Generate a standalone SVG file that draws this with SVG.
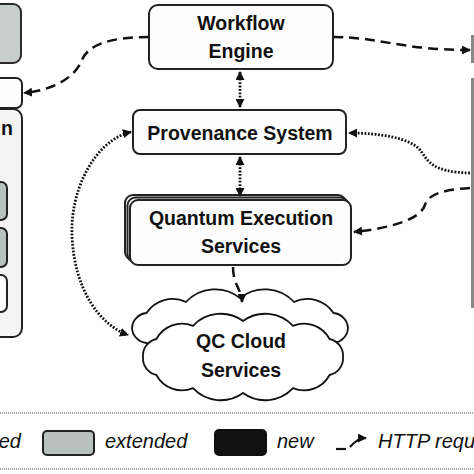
<svg xmlns="http://www.w3.org/2000/svg" width="474" height="474" viewBox="0 0 474 474">
<defs>
<marker id="ah" viewBox="0 0 10 10" refX="9" refY="5" markerWidth="9" markerHeight="9" markerUnits="userSpaceOnUse" orient="auto-start-reverse">
<path d="M0,0 L10,5 L0,10 z" fill="#111"/>
</marker>
</defs>
<style>
.box{fill:#fdfdfd;stroke:#222;stroke-width:2}
.lbl{font-family:"Liberation Sans",Arial,sans-serif;font-weight:bold;font-size:19.5px;fill:#111;text-anchor:middle}
.leg{font-family:"Liberation Sans",Arial,sans-serif;font-style:italic;font-size:20px;fill:#111}
.dash{fill:none;stroke:#111;stroke-width:2.5;stroke-dasharray:10 6}
.dot{fill:none;stroke:#111;stroke-width:2.8;stroke-dasharray:1.8 1.6}
.ext{fill:#b9c1be;stroke:#222;stroke-width:2}
.cloud{fill:#fff;stroke:#111;stroke-width:1.8}
</style>
<rect width="474" height="474" fill="#fff"/>

<g id="left-panel">
<rect x="-12" y="4" width="33" height="59" rx="8" fill="#c8cecb" stroke="#2a2a2a" stroke-width="2"/>
<rect x="-12" y="78" width="34" height="30" rx="6" class="box"/>
<rect x="-12" y="109" width="34" height="228" rx="9" fill="#f4f4f4" stroke="#222" stroke-width="2"/>
<text x="13" y="135" class="lbl" style="text-anchor:end">n</text>
<rect x="-12" y="182" width="19" height="38" rx="6" class="ext"/>
<rect x="-12" y="228" width="19" height="39" rx="6" class="ext"/>
<rect x="-12" y="275" width="19" height="37" rx="6" class="box"/>
</g>

<g id="right-panel">
<line x1="472.5" y1="35" x2="472.5" y2="63" stroke="#888" stroke-width="3"/>
<line x1="472.5" y1="78" x2="472.5" y2="308" stroke="#888" stroke-width="3"/>
</g>

<g id="workflow-engine">
<rect x="149" y="5" width="184" height="64" rx="9" class="box"/>
<text x="241" y="30" class="lbl">Workflow</text>
<text x="241" y="58" class="lbl">Engine</text>
</g>

<g id="provenance-system">
<rect x="133" y="110" width="213" height="44" rx="7" class="box"/>
<text x="240" y="140" class="lbl">Provenance System</text>
</g>

<g id="quantum-execution-services">
<rect x="125" y="195" width="221" height="65" rx="8" class="box"/>
<rect x="127.5" y="197.5" width="221" height="65" rx="8" class="box"/>
<rect x="130" y="200" width="221" height="65" rx="8" class="box"/>
<text x="241" y="225" class="lbl">Quantum Execution</text>
<text x="241" y="253" class="lbl">Services</text>
</g>

<g id="qc-cloud-services">
<path class="cloud" d="M348,328 A16,16 0 0 1 333.5,343 A31,31 0 0 1 294,354 A40,40 0 0 1 240,358 A40,40 0 0 1 186,354 A31,31 0 0 1 146.5,343 A16,16 0 0 1 132,328 A16,16 0 0 1 146.5,313 A31,31 0 0 1 186,302 A40,40 0 0 1 240,298 A40,40 0 0 1 294,302 A31,31 0 0 1 333.5,313 A16,16 0 0 1 348,328 Z"/>
<path class="cloud" d="M343,357 A17,17 0 0 1 329.6,375 A29,29 0 0 1 293,388.2 A38,38 0 0 1 243,393 A38,38 0 0 1 193,388.2 A29,29 0 0 1 156.4,375 A17,17 0 0 1 143,357 A17,17 0 0 1 156.4,339 A29,29 0 0 1 193,325.8 A38,38 0 0 1 243,321 A38,38 0 0 1 293,325.8 A29,29 0 0 1 329.6,339 A17,17 0 0 1 343,357 Z"/>
<text x="241" y="348" class="lbl">QC Cloud</text>
<text x="241" y="377" class="lbl">Services</text>
</g>

<g id="connectors">
<path class="dash" d="M149,37 C110,37 88,45 82,60 C76,76 55,90 24,93" marker-end="url(#ah)"/>
<path class="dash" d="M333,37 C380,37 400,50 470,50" marker-end="url(#ah)"/>
<path class="dot" d="M240,72 L240,107" marker-start="url(#ah)" marker-end="url(#ah)"/>
<path class="dot" d="M470,173 C430,172 428,160 420,150 C410,138 380,133 349,133" marker-end="url(#ah)"/>
<path class="dot" d="M131,132 C95,140 70,190 72,235 C74,290 100,325 128,335" marker-start="url(#ah)" marker-end="url(#ah)"/>
<path class="dot" d="M240,157 L240,196" marker-start="url(#ah)" marker-end="url(#ah)"/>
<path class="dash" d="M470,188 C440,190 428,195 425,205 C420,220 390,228 354,232" marker-end="url(#ah)"/>
<path class="dash" d="M233,267 C233,285 242,290 242,302" marker-end="url(#ah)"/>
</g>

<g id="legend">
<line x1="0" y1="413" x2="474" y2="413" stroke="#444" stroke-width="1" stroke-dasharray="1 1"/>
<line x1="0" y1="469" x2="474" y2="469" stroke="#444" stroke-width="1" stroke-dasharray="1 1"/>
<text x="21" y="448" class="leg" text-anchor="end">ed</text>
<rect x="43" y="431" width="51" height="24" rx="4" class="ext"/>
<text x="105" y="448" class="leg">extended</text>
<rect x="215" y="430" width="51" height="25" rx="4" fill="#111" stroke="#111" stroke-width="2"/>
<text x="277" y="448" class="leg">new</text>
<line x1="336" y1="449" x2="346" y2="449" stroke="#111" stroke-width="2.2"/>
<path d="M350,447 C355,441 360,438 366,438" fill="none" stroke="#111" stroke-width="2.2" marker-end="url(#ah)"/>
<text x="378" y="448" class="leg">HTTP requ</text>
</g>
</svg>
